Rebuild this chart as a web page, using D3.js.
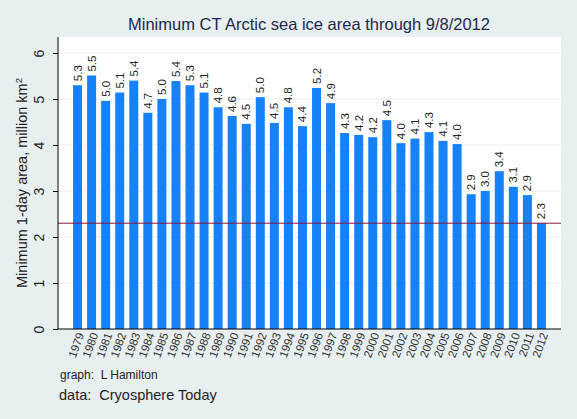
<!DOCTYPE html>
<html>
<head>
<meta charset="utf-8">
<script src="https://cdn.jsdelivr.net/npm/d3@7.9.0/dist/d3.min.js"></script>
<style>
  body { margin: 0; background: #e8eff1; }
  svg { display: block; font-family: 'Liberation Sans', Arial, sans-serif; }
  .pre { white-space: pre; }
</style>
</head>
<body>
<div id="chart"></div>
<script>
// Minimum CT Arctic sea ice area by year (million km2)
const years = [
  1979, 1980, 1981, 1982, 1983, 1984, 1985, 1986, 1987, 1988, 1989, 1990,
  1991, 1992, 1993, 1994, 1995, 1996, 1997, 1998, 1999, 2000, 2001, 2002,
  2003, 2004, 2005, 2006, 2007, 2008, 2009, 2010, 2011, 2012
];
const minArea = [
  5.30, 5.51, 4.96, 5.14, 5.40, 4.70, 5.00, 5.39, 5.30, 5.14, 4.82, 4.63,
  4.46, 5.04, 4.48, 4.82, 4.41, 5.24, 4.91, 4.26, 4.22, 4.17, 4.54, 4.04,
  4.14, 4.28, 4.09, 4.02, 2.93, 3.00, 3.43, 3.09, 2.91, 2.30
];
const yTicks = [0, 1, 2, 3, 4, 5, 6];
const refLine = 2.3; // 2012 value so far

const data = years.map((y, i) => ({ year: y, area: minArea[i] }));

const width = 577;
const height = 419;
const plot = { left: 58, right: 561, top: 37, bottom: 329 };

const svg = d3.select('#chart')
  .append('svg')
  .attr('width', width)
  .attr('height', height);

svg.append('rect')
  .attr('width', width)
  .attr('height', height)
  .attr('fill', '#e8eff1');

// white plot region
svg.append('rect')
  .attr('x', plot.left)
  .attr('y', plot.top)
  .attr('width', plot.right - plot.left)
  .attr('height', plot.bottom - plot.top)
  .attr('fill', '#ffffff');

const x = d3.scaleBand()
  .domain(years)
  .range([plot.left, plot.right])
  .paddingInner(0.36)
  .paddingOuter(1.07);

const y = d3.scaleLinear()
  .domain([0, 6])
  .range([plot.bottom, plot.bottom - 6 * 46]);

// faint gridlines
svg.append('g')
  .selectAll('line')
  .data(yTicks.slice(1))
  .join('line')
  .attr('x1', plot.left)
  .attr('x2', plot.right)
  .attr('y1', d => y(d))
  .attr('y2', d => y(d))
  .attr('stroke', '#e6eef0')
  .attr('stroke-width', 1);

// bars
svg.append('g')
  .selectAll('rect')
  .data(data)
  .join('rect')
  .attr('x', d => x(d.year))
  .attr('y', d => y(d.area))
  .attr('width', x.bandwidth())
  .attr('height', d => y(0) - y(d.area))
  .attr('fill', '#1781f7');

// value labels, rotated
const fmt = d3.format('.1f');
svg.append('g')
  .selectAll('text')
  .data(data)
  .join('text')
  .attr('transform', d =>
    `translate(${x(d.year) + x.bandwidth() / 2 + 4}, ${y(d.area) - 4}) rotate(-90)`)
  .attr('font-size', 11.5)
  .attr('fill', '#222')
  .text(d => fmt(d.area));

// reference line
svg.append('line')
  .attr('x1', plot.left)
  .attr('x2', plot.right)
  .attr('y1', y(refLine))
  .attr('y2', y(refLine))
  .attr('stroke', '#8a1538')
  .attr('stroke-width', 1);

// y axis
const yAxis = svg.append('g')
  .attr('transform', `translate(${plot.left},0)`)
  .call(d3.axisLeft(y).tickValues(yTicks).tickSize(5).tickFormat(d3.format('d')));
yAxis.select('.domain').attr('d', `M0,${plot.top}V${plot.bottom}`).attr('stroke', '#000');
yAxis.selectAll('.tick line').attr('stroke', '#000');
yAxis.selectAll('.tick text')
  .attr('font-size', 14)
  .attr('fill', '#222')
  .attr('x', null)
  .attr('dy', null)
  .attr('text-anchor', 'middle')
  .attr('transform', 'translate(-19,0) rotate(-90)')
  .attr('dominant-baseline', 'central');

// x axis
const xAxis = svg.append('g')
  .attr('transform', `translate(0,${plot.bottom})`)
  .call(d3.axisBottom(x).tickSize(0).tickFormat(d => String(d)));
xAxis.select('.domain').attr('d', `M${plot.left},0H${plot.right}`).attr('stroke', '#000');
xAxis.selectAll('.tick text')
  .attr('font-size', 11.5)
  .attr('fill', '#333')
  .attr('y', null)
  .attr('dy', null)
  .attr('text-anchor', 'end')
  .attr('transform', 'translate(3,4) rotate(-70)')
  .attr('dominant-baseline', 'central');

// title
svg.append('text')
  .attr('x', 309)
  .attr('y', 30)
  .attr('text-anchor', 'middle')
  .attr('font-size', 16.5)
  .attr('fill', '#1e2a4a')
  .text('Minimum CT Arctic sea ice area through 9/8/2012');

// y axis title
const yt = svg.append('text')
  .attr('transform', `translate(27,${(plot.top + plot.bottom) / 2}) rotate(-90)`)
  .attr('text-anchor', 'middle')
  .attr('font-size', 14.5)
  .attr('fill', '#222');
yt.append('tspan').text('Minimum 1-day area, million km');
yt.append('tspan').attr('dy', -5).attr('font-size', 9.5).text('2');

// notes
svg.append('text')
  .attr('class', 'pre')
  .attr('x', 60)
  .attr('y', 379)
  .attr('font-size', 12)
  .attr('fill', '#222')
  .text('graph:  L Hamilton');
svg.append('text')
  .attr('class', 'pre')
  .attr('x', 59)
  .attr('y', 400)
  .attr('font-size', 14.5)
  .attr('fill', '#222')
  .text('data:  Cryosphere Today');
</script>
</body>
</html>
